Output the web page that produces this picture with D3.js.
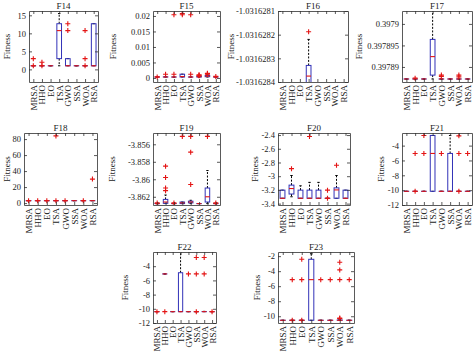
<!DOCTYPE html>
<html>
<head>
<meta charset="utf-8">
<script src="https://cdn.jsdelivr.net/npm/d3@7"></script>
<style>
  body { margin: 0; background: #fff; }
  text { font-family: "Liberation Serif", "Times New Roman", serif; fill: #1a1a1a; }
</style>
</head>
<body>
<svg id="svg"></svg>
<script>
// algorithms on the x axis
let algs = ["MRSA", "HHO", "EO", "TSA", "GWO", "SSA", "WOA", "RSA"];

// box stats per algorithm: [low whisker, q1, median, q3, high whisker]
let f14Box = [[0.998,0.998,0.998,0.998,0.998],[0.998,0.998,0.998,0.998,0.998],[0.998,0.998,0.998,0.998,0.998],[0.998,2.98,10.76,12.67,15.5],
              [0.998,0.998,0.998,2.98,2.98],[0.998,0.998,0.998,0.998,0.998],[0.998,0.998,0.998,0.998,0.998],[0.998,0.998,0.998,12.67,12.67]];
let f14Out = [[2.98,0.999],[1.99,0.999],[],[],[12.67,10.76],[],[10.76,2.98,0.999],[]];

let f15Box = [[0.000307,0.000307,0.000307,0.000307,0.000307],[0.000307,0.00031,0.00032,0.00036,0.0004],[0.000307,0.000307,0.000307,0.000307,0.000307],[0.000307,0.00031,0.00045,0.00122,0.00122],
              [0.000307,0.000307,0.000308,0.00031,0.00031],[0.000307,0.000307,0.0004,0.0005,0.0006],[0.0003,0.0004,0.0006,0.0008,0.001],[0.0003,0.0003,0.0003,0.0003,0.0003]];
let f15Out = [[0.00035],[0.00122],[0.0204,0.00122],[0.0204,0.0208],[0.0204,0.00122],[0.0007,0.0009,0.001],[0.0012,0.0014,0.0015],[0.0005]];

let f16Low = -1.03162845;
let f16Box = [[f16Low,f16Low,f16Low,f16Low,f16Low],[f16Low,f16Low,f16Low,f16Low,f16Low],[f16Low,f16Low,f16Low,f16Low,f16Low],[f16Low,f16Low,-1.031628375,-1.03162833,-1.03162822],
              [f16Low,f16Low,f16Low,f16Low,f16Low],[f16Low,f16Low,f16Low,f16Low,f16Low],[f16Low,f16Low,f16Low,f16Low,f16Low],[f16Low,f16Low,f16Low,f16Low,f16Low]];
let f16Out = [[],[],[],[-1.0316281875],[],[],[],[]];

let f17Low = 0.3978872;
let f17Box = [[f17Low,f17Low,f17Low,f17Low,f17Low],[f17Low,f17Low,f17Low,f17Low,f17Low],[f17Low,f17Low,f17Low,f17Low,f17Low],[f17Low,0.3978881,0.3978924,0.3978964,0.39791],
              [f17Low,f17Low,f17Low,f17Low,f17Low],[f17Low,f17Low,f17Low,f17Low,f17Low],[f17Low,f17Low,f17Low,f17Low,f17Low],[f17Low,f17Low,f17Low,f17Low,f17Low]];
let f17Out = [[],[0.3978874],[],[],[0.3978878,0.3978881],[],[0.3978877,0.3978881],[]];

let f18Box = [[3,3,3,3,3],[3,3,3,3,3],[3,3,3,3,3],[3,3,3,3,3],[3,3,3,3,3],[3,3,3,3,3],[3,3,3,3,3],[3,3,3,3,3]];
let f18Out = [[3.0001],[3.0001],[3.0001],[84,3.0001],[3.0001],[],[3.0001],[30]];

let f19Box = [[-3.86278,-3.86278,-3.86278,-3.86278,-3.86278],[-3.86278,-3.86275,-3.8626,-3.8623,-3.8618],[-3.86278,-3.86278,-3.86278,-3.86278,-3.86278],[-3.86278,-3.86278,-3.8627,-3.8626,-3.8626],
              [-3.86278,-3.8627,-3.8626,-3.8625,-3.8624],[-3.86278,-3.86278,-3.86278,-3.86278,-3.86278],[-3.86278,-3.8626,-3.862,-3.861,-3.859],[-3.86278,-3.86278,-3.86278,-3.86278,-3.86278]];
let f19Out = [[-3.8627],[-3.8585,-3.8598,-3.861,-3.8613],[-3.8627],[-3.8551],[-3.8551,-3.8569,-3.8606],[],[-3.8551],[-3.8627]];

let f20Box = [[-3.322,-3.322,-3.322,-3.2031,-3.2031],[-3.3,-3.26,-3.18,-3.13,-2.99],[-3.322,-3.322,-3.322,-3.2031,-3.14],[-3.322,-3.322,-3.322,-3.2031,-3.09],
              [-3.322,-3.322,-3.322,-3.2031,-3.09],[-3.322,-3.322,-3.322,-3.322,-3.322],[-3.322,-3.322,-3.2,-3.17,-2.99],[-3.322,-3.322,-3.322,-3.2031,-3.2031]];
let f20Out = [[],[-2.89],[],[-2.42],[],[-3.2031,-3.322],[-2.84],[]];

let f21Box = [[-10.1532,-10.1532,-10.1532,-10.1532,-10.1532],[-10.1532,-10.1532,-10.1532,-10.1532,-10.1532],[-10.1532,-10.1532,-10.1532,-10.1532,-10.1532],[-10.1532,-10.1532,-5.0552,-2.6305,-2.6305],
              [-10.1532,-10.1532,-10.1532,-10.1532,-10.1532],[-10.1532,-10.1532,-10.1532,-5.0552,-2.6305],[-10.1532,-10.1532,-10.1532,-10.1532,-10.1532],[-10.1532,-10.1532,-10.1532,-10.1532,-10.1532]];
let f21Out = [[],[-5.0552,-10.15],[-2.6305,-5.0552],[],[-5.0552],[],[-2.6829,-5.0552,-10.15],[-5.0552]];

let f22Box = [[-10.4029,-10.4029,-10.4029,-10.4029,-10.4029],[-5.0877,-5.0877,-5.0877,-5.0877,-5.0877],[-10.4029,-10.4029,-10.4029,-10.4029,-10.4029],[-10.4029,-10.4029,-10.4029,-4.92,-1.5],
              [-10.4029,-10.4029,-10.4029,-10.4029,-10.4029],[-10.4029,-10.4029,-10.4029,-10.4029,-10.4029],[-10.4029,-10.4029,-10.4,-10.38,-10.36],[-10.4029,-10.4029,-10.4029,-10.4029,-10.4029]];
let f22Out = [[-10.4029],[-10.4029],[],[],[-5.0877],[-2.7659,-5.0877,-10.4029],[-2.7659,-5.0877],[-10.4029]];

let f23Box = [[-10.5364,-10.5364,-10.5364,-10.5364,-10.5364],[-10.5364,-10.5364,-10.5364,-10.5364,-10.5364],[-10.5364,-10.5364,-10.5364,-10.5364,-10.5364],[-10.5364,-10.5364,-5.1285,-2.4217,-1.68],
              [-10.5364,-10.5364,-10.5364,-10.5364,-10.5364],[-10.5364,-10.5364,-10.5364,-10.5364,-10.5364],[-10.5364,-10.5364,-10.5364,-10.5,-10.45],[-10.5364,-10.5364,-10.5364,-10.5364,-10.5364]];
let f23Out = [[],[-5.1285,-10.5364],[-2.4217,-5.1285,-10.5364],[],[-5.1285],[-5.1285],[-2.8066,-3.8354,-5.1285,-10.3,-10.25],[-5.1285]];

// y limits and tick values
let f14Lim = [-3.5, 16.2],            f14Ticks = [0, 5, 10, 15];
let f15Lim = [-0.0013, 0.0216],       f15Ticks = [0, 0.005, 0.01, 0.015, 0.02];
let f16Lim = [-1.0316284, -1.0316281], f16Ticks = [-1.0316284, -1.0316283, -1.0316282, -1.0316281];
let f17Lim = [0.3978865, 0.397903],   f17Ticks = [0.39789, 0.397895, 0.3979];
let f18Lim = [-2.4, 87.6],            f18Ticks = [0, 20, 40, 60, 80];
let f19Lim = [-3.86294, -3.85471],    f19Ticks = [-3.862, -3.86, -3.858, -3.856];
let f20Lim = [-3.42, -2.37],          f20Ticks = [-3.4, -3.2, -3, -2.8, -2.6, -2.4];
let f21Lim = [-12, -2.3],             f21Ticks = [-12, -10, -8, -6, -4];
let f22Lim = [-12, -2.0],             f22Ticks = [-12, -10, -8, -6, -4];
let f23Lim = [-10.9, -1.45],          f23Ticks = [-10, -8, -6, -4, -2];

// colors
let boxColor = "#3232b8";
let red = "#e41414";
let axisColor = "#303030";
let serif = "'Liberation Serif', 'Times New Roman', serif";

let svg = d3.select("#svg"),
    width = 474,
    height = 352;
svg.attr("width", width).attr("height", height);

// panel frames [x0, x1, y0, y1] and x of the y label
let panels = [
  {name: "F14", box: f14Box, out: f14Out, lim: f14Lim, ticks: f14Ticks, frame: [29, 98, 11, 82], lab: 7},
  {name: "F15", box: f15Box, out: f15Out, lim: f15Lim, ticks: f15Ticks, frame: [153, 220, 11, 82], lab: 113},
  {name: "F16", box: f16Box, out: f16Out, lim: f16Lim, ticks: f16Ticks, frame: [278, 348, 11, 82], lab: 231},
  {name: "F17", box: f17Box, out: f17Out, lim: f17Lim, ticks: f17Ticks, frame: [402, 472, 11, 82], lab: 359},
  {name: "F18", box: f18Box, out: f18Out, lim: f18Lim, ticks: f18Ticks, frame: [24, 97, 133, 205], lab: 7},
  {name: "F19", box: f19Box, out: f19Out, lim: f19Lim, ticks: f19Ticks, frame: [153, 220, 133, 205], lab: 112},
  {name: "F20", box: f20Box, out: f20Out, lim: f20Lim, ticks: f20Ticks, frame: [278, 350, 133, 205], lab: 255},
  {name: "F21", box: f21Box, out: f21Out, lim: f21Lim, ticks: f21Ticks, frame: [402, 472, 133, 205], lab: 381},
  {name: "F22", box: f22Box, out: f22Out, lim: f22Lim, ticks: f22Ticks, frame: [153, 216, 252, 323], lab: 125},
  {name: "F23", box: f23Box, out: f23Out, lim: f23Lim, ticks: f23Ticks, frame: [278, 354, 252, 323], lab: 257}
];

let defs = svg.append("defs");

panels.forEach(function (p) {
  let [x0, x1, y0, y1] = p.frame;
  let x = d3.scaleLinear().domain([0.5, 8.5]).range([x0, x1]);
  let y = d3.scaleLinear().domain(p.lim).range([y1, y0]);
  let step = x(2) - x(1);
  let hw = step * 0.27;

  defs.append("clipPath").attr("id", "clip" + p.name)
    .append("rect").attr("x", x0).attr("y", y0).attr("width", x1 - x0).attr("height", y1 - y0);

  let g = svg.append("g");
  let plot = g.append("g").attr("clip-path", "url(#clip" + p.name + ")");

  p.box.forEach(function (s, i) {
    let cx = x(i + 1);
    let [lo, q1, med, q3, hi] = s;
    let bg = plot.append("g");
    // whiskers
    if (hi > q3) bg.append("line").attr("x1", cx).attr("x2", cx).attr("y1", y(q3)).attr("y2", y(hi))
      .attr("stroke", "#000").attr("stroke-width", 1).attr("stroke-dasharray", "2,1.5");
    if (lo < q1) bg.append("line").attr("x1", cx).attr("x2", cx).attr("y1", y(q1)).attr("y2", y(lo))
      .attr("stroke", "#000").attr("stroke-width", 1).attr("stroke-dasharray", "2,1.5");
    // caps
    [lo, hi].forEach(function (v) {
      bg.append("line").attr("x1", cx - hw / 2).attr("x2", cx + hw / 2).attr("y1", y(v)).attr("y2", y(v))
        .attr("stroke", "#000").attr("stroke-width", 1);
    });
    // box
    bg.append("rect").attr("x", cx - hw).attr("width", hw * 2)
      .attr("y", y(q3)).attr("height", Math.max(0.01, y(q1) - y(q3)))
      .attr("fill", "none").attr("stroke", boxColor).attr("stroke-width", 1);
    // median
    bg.append("line").attr("x1", cx - hw).attr("x2", cx + hw).attr("y1", y(med)).attr("y2", y(med))
      .attr("stroke", red).attr("stroke-width", 1.1);
    // outliers
    p.out[i].forEach(function (v) {
      let py = y(v);
      bg.append("path").attr("d", "M" + (cx - 2.5) + "," + py + "h5M" + cx + "," + (py - 2.5) + "v5")
        .attr("stroke", red).attr("stroke-width", 1.1).attr("fill", "none");
    });
  });

  // axes
  let ya = g.append("g").attr("transform", "translate(" + x0 + ",0)")
    .call(d3.axisLeft(y).tickValues(p.ticks).tickFormat(function (d) { return String(d); })
      .tickSize(-3).tickSizeOuter(0).tickPadding(3));
  ya.selectAll("text").style("font-family", serif).style("font-size", "8.5px");
  g.append("g").attr("transform", "translate(" + x1 + ",0)")
    .call(d3.axisRight(y).tickValues(p.ticks).tickFormat("").tickSize(-3).tickSizeOuter(0));
  g.append("g").attr("transform", "translate(0," + y0 + ")")
    .call(d3.axisTop(x).tickValues(d3.range(1, 9)).tickFormat("").tickSize(-3).tickSizeOuter(0));
  let xa = g.append("g").attr("transform", "translate(0," + y1 + ")")
    .call(d3.axisBottom(x).tickValues(d3.range(1, 9)).tickFormat(function (d) { return algs[d - 1]; })
      .tickSize(-3).tickSizeOuter(0));
  xa.selectAll("text").attr("transform", "rotate(-90)").attr("text-anchor", "end")
    .attr("x", -3).attr("y", 0).attr("dy", "0.33em")
    .style("font-family", serif).style("font-size", "9px");

  g.selectAll(".domain, .tick line").attr("stroke", axisColor).attr("stroke-width", 0.8);
  g.selectAll(".tick text").attr("fill", "#1a1a1a");

  // title
  g.append("text").attr("x", (x0 + x1) / 2).attr("y", y0 - 2.5).attr("text-anchor", "middle")
    .style("font-family", serif).style("font-size", "9px").text(p.name);
  // y label
  g.append("text").attr("transform", "translate(" + p.lab + "," + ((y0 + y1) / 2) + ") rotate(-90)")
    .attr("text-anchor", "middle").attr("dy", "0.35em")
    .style("font-family", serif).style("font-size", "9px").text("Fitness");
});
</script>
</body>
</html>
